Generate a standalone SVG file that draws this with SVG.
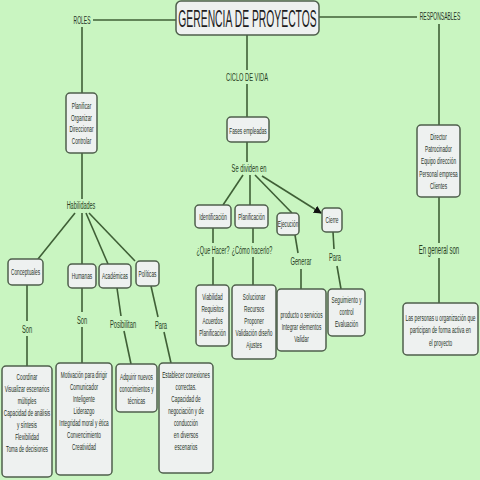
<svg xmlns="http://www.w3.org/2000/svg" width="480" height="480" viewBox="0 0 480 480">
<defs>
<style>
.bx{fill:#eef1f0;stroke:#4f5f4c;stroke-width:1.5}
.ln{stroke:#3f5f36;stroke-width:1.6;fill:none}
.t{font-family:"Liberation Sans",Arial,sans-serif;text-anchor:middle;fill:#263226}
.s{font-size:9.5px}
.m{font-size:11.5px;fill:#263d22}
</style>
<marker id="ah" markerWidth="8" markerHeight="8" refX="7" refY="4" orient="auto" markerUnits="userSpaceOnUse">
<path d="M0,0 L8,4 L0,8 Z" fill="#111"/>
</marker>
</defs>
<rect width="480" height="480" fill="#c9f5c1"/>
<g id="connectors">
<line class="ln" x1="93" y1="20" x2="176" y2="20"/>
<line class="ln" x1="82" y1="27" x2="82" y2="93"/>
<line class="ln" x1="82" y1="153" x2="82" y2="199"/>
<line class="ln" x1="75" y1="213" x2="38" y2="259"/>
<line class="ln" x1="82" y1="213" x2="82" y2="264"/>
<line class="ln" x1="86" y1="213" x2="108" y2="264"/>
<line class="ln" x1="89" y1="213" x2="135" y2="261"/>
<line class="ln" x1="27" y1="285" x2="27" y2="321"/>
<line class="ln" x1="27" y1="336" x2="27" y2="366"/>
<line class="ln" x1="82" y1="288" x2="82" y2="312"/>
<line class="ln" x1="82" y1="327" x2="82" y2="363"/>
<line class="ln" x1="117" y1="288" x2="121" y2="316"/>
<line class="ln" x1="124" y1="331" x2="131" y2="364"/>
<line class="ln" x1="151" y1="286" x2="158" y2="317"/>
<line class="ln" x1="164" y1="332" x2="171" y2="363"/>
<line class="ln" x1="247" y1="35" x2="247" y2="70"/>
<line class="ln" x1="247" y1="84" x2="247" y2="117"/>
<line class="ln" x1="247" y1="142" x2="247" y2="162"/>
<line class="ln" x1="243" y1="175" x2="223" y2="205"/>
<line class="ln" x1="250" y1="175" x2="250" y2="205"/>
<line class="ln" x1="255" y1="175" x2="292" y2="213"/>
<line class="ln" x1="262" y1="176" x2="321" y2="213" stroke="#1c1c1c" marker-end="url(#ah)"/>
<line class="ln" x1="213" y1="228" x2="213" y2="243"/>
<line class="ln" x1="213" y1="257" x2="213" y2="285"/>
<line class="ln" x1="253" y1="228" x2="253" y2="243"/>
<line class="ln" x1="253" y1="257" x2="253" y2="285"/>
<line class="ln" x1="295" y1="235" x2="298" y2="253"/>
<line class="ln" x1="301" y1="269" x2="301" y2="289"/>
<line class="ln" x1="333" y1="232" x2="334" y2="249"/>
<line class="ln" x1="337" y1="266" x2="341" y2="289"/>
<line class="ln" x1="319" y1="17" x2="417" y2="17"/>
<line class="ln" x1="439" y1="24" x2="439" y2="125"/>
<line class="ln" x1="439" y1="197" x2="439" y2="243"/>
<line class="ln" x1="439" y1="258" x2="439" y2="303"/>
</g>
<g id="labels">
<text class="t" font-size="10" transform="translate(82,24) scale(0.5,1)">ROLES</text>
<text class="t m" font-size="11" transform="translate(247,81) scale(0.52,1)" style="font-size:11px">CICLO DE VIDA</text>
<text class="t" font-size="10" transform="translate(440,19.5) scale(0.5,1)">RESPONSABLES</text>
<text class="t m" transform="translate(81,209) scale(0.5,1)" style="font-size:11px">Habilidades</text>
<text class="t m" transform="translate(249,172) scale(0.5,1)">Se dividen en</text>
<text class="t m" transform="translate(27,333) scale(0.5,1)">Son</text>
<text class="t m" transform="translate(82,324) scale(0.5,1)">Son</text>
<text class="t m" transform="translate(123,328) scale(0.5,1)">Posibilitan</text>
<text class="t m" transform="translate(161,329) scale(0.5,1)">Para</text>
<text class="t m" transform="translate(213,254) scale(0.5,1)" style="font-size:11px">¿Que Hacer?</text>
<text class="t m" transform="translate(252,254) scale(0.5,1)" style="font-size:11px">¿Cómo hacerlo?</text>
<text class="t m" transform="translate(301,265) scale(0.5,1)">Generar</text>
<text class="t m" transform="translate(335,261) scale(0.5,1)">Para</text>
<text class="t m" transform="translate(439,254) scale(0.5,1)" style="font-size:12px">En general son</text>
</g>
<g id="titulo">
<rect class="bx" x="176" y="1" width="143" height="34" rx="5"/>
<text class="t" transform="translate(247.5,27) scale(0.45,1)" style="font-size:23px;fill:#1e1e1e">GERENCIA DE PROYECTOS</text>
</g>
<g id="roles">
<rect class="bx" x="66" y="93" width="31" height="60" rx="4"/>
<text class="t s" transform="translate(81.5,109) scale(0.5,1)"><tspan x="0">Planificar</tspan><tspan x="0" dy="11.7">Organizar</tspan><tspan x="0" dy="11.7">Direccionar</tspan><tspan x="0" dy="11.7">Controlar</tspan></text>
</g>
<g id="conceptuales">
<rect class="bx" x="8" y="259" width="35" height="26" rx="4"/>
<text class="t s" transform="translate(25.5,275) scale(0.5,1)">Conceptuales</text>
</g>
<g id="humanas">
<rect class="bx" x="68" y="264" width="28" height="24" rx="4"/>
<text class="t s" transform="translate(82,279) scale(0.5,1)">Humanas</text>
</g>
<g id="academicas">
<rect class="bx" x="99" y="264" width="32" height="24" rx="4"/>
<text class="t s" transform="translate(115,279) scale(0.5,1)">Académicas</text>
</g>
<g id="politicas">
<rect class="bx" x="136" y="261" width="23" height="25" rx="4"/>
<text class="t s" transform="translate(147.5,276.5) scale(0.5,1)">Políticas</text>
</g>
<g id="conceptuales-det">
<rect class="bx" x="2" y="366" width="50" height="111" rx="4"/>
<text class="t s" transform="translate(27,380) scale(0.5,1)"><tspan x="0">Coordinar</tspan><tspan x="0" dy="12">Visualizar escenarios</tspan><tspan x="0" dy="12">múltiples</tspan><tspan x="0" dy="12">Capacidad de análisis</tspan><tspan x="0" dy="12">y síntesis</tspan><tspan x="0" dy="12">Flexibilidad</tspan><tspan x="0" dy="12">Toma de decisiones</tspan></text>
</g>
<g id="humanas-det">
<rect class="bx" x="56" y="363" width="56" height="112" rx="4"/>
<text class="t s" transform="translate(84,378) scale(0.5,1)"><tspan x="0">Motivación para dirigir</tspan><tspan x="0" dy="12">Comunicador</tspan><tspan x="0" dy="12">Inteligente</tspan><tspan x="0" dy="12">Liderazgo</tspan><tspan x="0" dy="12">Integridad moral y ética</tspan><tspan x="0" dy="12">Convencimiento</tspan><tspan x="0" dy="12">Creatividad</tspan></text>
</g>
<g id="academicas-det">
<rect class="bx" x="116" y="364" width="41" height="48" rx="4"/>
<text class="t s" transform="translate(136.5,380) scale(0.5,1)"><tspan x="0">Adquirir nuevos</tspan><tspan x="0" dy="12">conocimientos y</tspan><tspan x="0" dy="12">técnicas</tspan></text>
</g>
<g id="politicas-det">
<rect class="bx" x="159" y="363" width="54" height="110" rx="4"/>
<text class="t s" transform="translate(186,378) scale(0.5,1)"><tspan x="0">Establecer conexiones</tspan><tspan x="0" dy="12">correctas.</tspan><tspan x="0" dy="12">Capacidad de</tspan><tspan x="0" dy="12">negociación y de</tspan><tspan x="0" dy="12">conducción</tspan><tspan x="0" dy="12">en diversos</tspan><tspan x="0" dy="12">escenarios</tspan></text>
</g>
<g id="fases">
<rect class="bx" x="227" y="117" width="42" height="25" rx="4"/>
<text class="t s" transform="translate(248,133.5) scale(0.5,1)">Fases empleadas</text>
</g>
<g id="identificacion">
<rect class="bx" x="195" y="205" width="36" height="23" rx="4"/>
<text class="t s" transform="translate(213,219.5) scale(0.5,1)">Identificación</text>
</g>
<g id="planificacion">
<rect class="bx" x="235" y="205" width="33" height="23" rx="4"/>
<text class="t s" transform="translate(251.5,219.5) scale(0.5,1)">Planificación</text>
</g>
<g id="ejecucion">
<rect class="bx" x="277" y="213" width="22" height="22" rx="4"/>
<text class="t s" transform="translate(288,227) scale(0.5,1)">Ejecución</text>
</g>
<g id="cierre">
<rect class="bx" x="322" y="208" width="20" height="24" rx="4"/>
<text class="t s" transform="translate(332,223) scale(0.5,1)">Cierre</text>
</g>
<g id="identificacion-det">
<rect class="bx" x="196" y="285" width="33" height="61" rx="4"/>
<text class="t s" transform="translate(212.5,300) scale(0.5,1)"><tspan x="0">Viabilidad</tspan><tspan x="0" dy="12">Requisitos</tspan><tspan x="0" dy="12">Acuerdos</tspan><tspan x="0" dy="12">Planificación</tspan></text>
</g>
<g id="planificacion-det">
<rect class="bx" x="232" y="285" width="44" height="74" rx="4"/>
<text class="t s" transform="translate(254,300) scale(0.5,1)"><tspan x="0">Solucionar</tspan><tspan x="0" dy="12">Recursos</tspan><tspan x="0" dy="12">Proponer</tspan><tspan x="0" dy="12">Validación diseño</tspan><tspan x="0" dy="12">Ajustes</tspan></text>
</g>
<g id="ejecucion-det">
<rect class="bx" x="277" y="289" width="49" height="62" rx="4"/>
<text class="t s" transform="translate(301.5,318) scale(0.5,1)"><tspan x="0">producto o servicios</tspan><tspan x="0" dy="12">Integrar elementos</tspan><tspan x="0" dy="12">Validar</tspan></text>
</g>
<g id="cierre-det">
<rect class="bx" x="328" y="289" width="37" height="47" rx="4"/>
<text class="t s" transform="translate(346.5,303) scale(0.5,1)"><tspan x="0">Seguimiento y</tspan><tspan x="0" dy="12">control</tspan><tspan x="0" dy="12">Evaluación</tspan></text>
</g>
<g id="responsables">
<rect class="bx" x="417" y="125" width="43" height="72" rx="4"/>
<text class="t s" transform="translate(438.5,140) scale(0.5,1)"><tspan x="0">Director</tspan><tspan x="0" dy="12.2">Patrocinador</tspan><tspan x="0" dy="12.2">Equipo dirección</tspan><tspan x="0" dy="12.2">Personal empresa</tspan><tspan x="0" dy="12.2">Clientes</tspan></text>
</g>
<g id="personas">
<rect class="bx" x="403" y="303" width="75" height="52" rx="4"/>
<text class="t s" transform="translate(440.5,321) scale(0.5,1)"><tspan x="0">Las personas u organización que</tspan><tspan x="0" dy="12.5">participan de forma activa en</tspan><tspan x="0" dy="12.5">el proyecto</tspan></text>
</g>
</svg>
